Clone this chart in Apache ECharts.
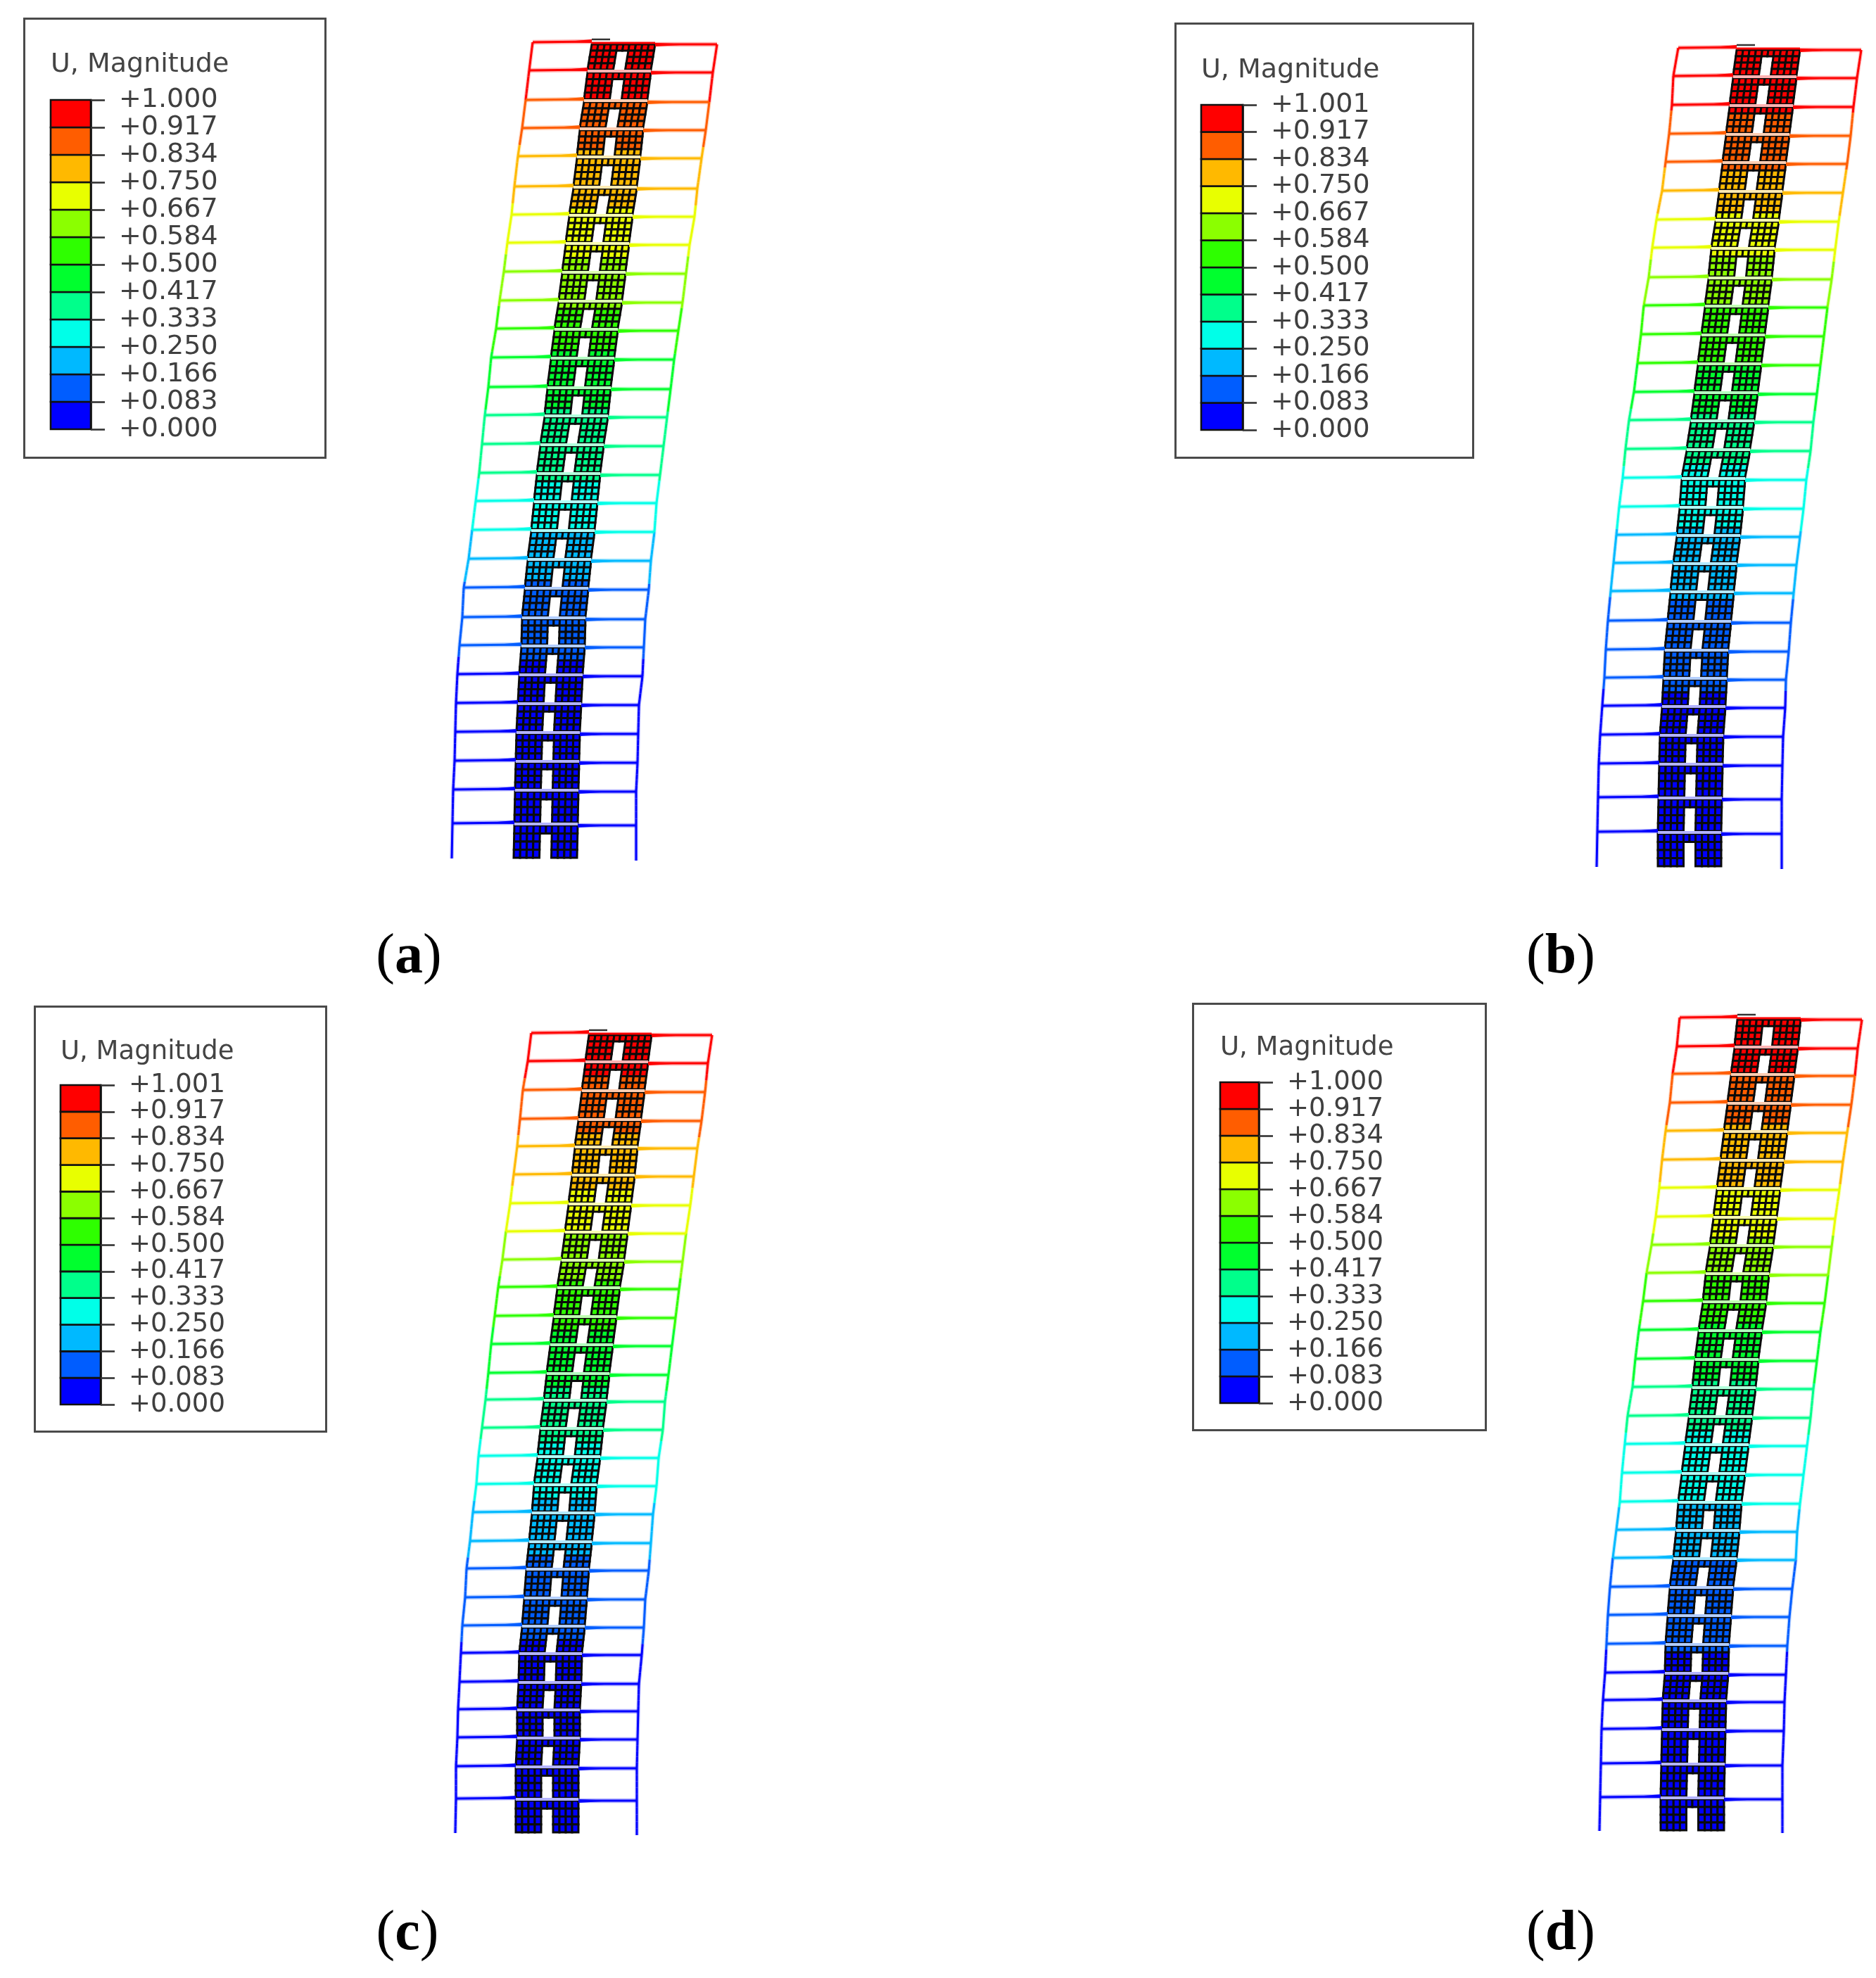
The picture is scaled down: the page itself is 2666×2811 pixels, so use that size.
<!DOCTYPE html>
<html>
<head>
<meta charset="UTF-8">
<title>U, Magnitude</title>
<script src="https://cdn.jsdelivr.net/npm/echarts@6/dist/echarts.min.js"></script>
<style>html,body{margin:0;padding:0;background:#fff}</style>
</head>
<body>
<div id="main" style="width:2666px;height:2811px"></div>
<script>
// contour bands, bottom to top, as in the legend
var bandColors = ['#0000ff','#005dff','#00b9ff','#00ffe8','#00ff8b','#00ff2e','#2eff00','#8bff00','#e8ff00','#ffb900','#ff5d00','#ff0000'];

// legend tick labels, top to bottom
var labelsA = ['+1.000','+0.917','+0.834','+0.750','+0.667','+0.584','+0.500','+0.417','+0.333','+0.250','+0.166','+0.083','+0.000'];
var labelsB = ['+1.001','+0.917','+0.834','+0.750','+0.667','+0.584','+0.500','+0.417','+0.333','+0.250','+0.166','+0.083','+0.000'];
var labelsC = ['+1.001','+0.917','+0.834','+0.750','+0.667','+0.584','+0.500','+0.417','+0.333','+0.250','+0.166','+0.083','+0.000'];
var labelsD = ['+1.000','+0.917','+0.834','+0.750','+0.667','+0.584','+0.500','+0.417','+0.333','+0.250','+0.166','+0.083','+0.000'];

// floor levels of the deformed frame, roof first, ground last
var levelA = [60,100,142,182,222,265,305,345,386,427,467,508,550,590,631,672,712,753,794,835,877,917,958,999,1040,1081,1122,1170,1220];
var leftA  = [757,752,747,742,736,731,727,721,716,710,705,698,694,689,685,681,676,671,666,659,657,653,650,648,647,646,644,643,642];
var rightA = [1019,1013,1008,1003,997,991,987,980,975,970,964,958,953,948,943,938,933,930,925,922,917,915,913,908,907,906,904,904,904];
var coreA  = [841,835,830,824,820,815,809,804,799,794,788,783,778,774,768,763,759,755,750,746,742,741,738,736,734,733,732,731,730];

var levelB = [68,108,149,190,230,271,312,352,394,434,475,516,557,597,638,679,720,760,800,840,882,923,963,1003,1044,1085,1133,1182,1232];
var leftB  = [2385,2378,2376,2372,2367,2362,2354,2348,2343,2336,2332,2327,2322,2315,2310,2306,2301,2297,2293,2289,2285,2282,2280,2277,2274,2272,2271,2270,2269];
var rightB = [2645,2639,2634,2630,2625,2619,2613,2608,2603,2597,2592,2587,2582,2577,2573,2567,2563,2558,2553,2549,2545,2542,2538,2537,2534,2533,2532,2532,2532];
var coreB  = [2468,2463,2458,2453,2448,2443,2438,2432,2428,2423,2418,2413,2408,2403,2397,2390,2387,2383,2378,2374,2370,2366,2364,2362,2359,2358,2357,2356,2356];

var levelC = [1468,1508,1549,1590,1629,1669,1710,1750,1790,1829,1870,1910,1951,1989,2029,2069,2109,2149,2190,2229,2270,2310,2349,2390,2429,2469,2510,2556,2605];
var leftC  = [755,750,743,739,735,730,725,719,714,708,703,698,694,690,685,680,677,672,668,663,661,657,655,653,651,650,648,648,647];
var rightC = [1012,1006,1002,997,991,986,981,975,970,965,960,955,950,945,942,936,933,928,925,922,917,915,912,908,907,906,905,905,905];
var coreC  = [837,832,827,822,817,813,808,803,798,792,787,782,777,773,768,764,759,756,752,748,745,742,738,737,735,735,733,733,733];

var levelD = [1446,1487,1526,1567,1607,1648,1688,1729,1769,1809,1849,1890,1931,1971,2012,2052,2093,2134,2174,2214,2255,2295,2336,2377,2416,2457,2506,2554,2602];
var leftD  = [2387,2383,2377,2373,2367,2362,2358,2353,2347,2340,2335,2329,2324,2320,2313,2309,2305,2302,2297,2292,2288,2285,2283,2281,2278,2276,2275,2274,2273];
var rightD = [2646,2640,2636,2631,2625,2619,2614,2608,2603,2598,2593,2587,2582,2577,2573,2568,2563,2558,2554,2552,2547,2543,2540,2538,2536,2535,2533,2533,2533];
var coreD  = [2469,2465,2460,2455,2450,2445,2440,2435,2430,2424,2420,2414,2409,2405,2400,2395,2390,2385,2382,2378,2373,2370,2367,2366,2363,2362,2361,2360,2360];

var panels = [
  {name:'a', level:levelA, left:leftA, right:rightA, core:coreA, labels:labelsA, coreW:90,
   box:[33,25,428,624], bar:[72,142,57,468], titleY:92, font:38, tag:[581,1361]},
  {name:'b', level:levelB, left:leftB, right:rightB, core:coreB, labels:labelsB, coreW:90,
   box:[1669,32,423,617], bar:[1707,149,59,462], titleY:100, font:38, tag:[2218,1361]},
  {name:'c', level:levelC, left:leftC, right:rightC, core:coreC, labels:labelsC, coreW:89,
   box:[48,1429,414,604], bar:[86,1542,57,454], titleY:1495, font:37, tag:[579,2749]},
  {name:'d', level:levelD, left:leftD, right:rightD, core:coreD, labels:labelsD, coreW:90,
   box:[1694,1425,416,606], bar:[1734,1538,55,456], titleY:1489, font:37, tag:[2218,2749]}
];

function bandOf(u, labels){
  for(var k=0;k<12;k++){
    if(u<parseFloat(labels[11-k])) return Math.max(0,k);
  }
  return 11;
}

function pale(hex, t){
  var n=parseInt(hex.slice(1),16);
  var r=(n>>16)&255,g=(n>>8)&255,b=n&255;
  return 'rgb('+Math.round(r+(255-r)*t)+','+Math.round(g+(255-g)*t)+','+Math.round(b+(255-b)*t)+')';
}

function line(pts,color,w,op){
  return {type:'polyline',shape:{points:pts},style:{stroke:color,lineWidth:w,fill:null,opacity:op==null?1:op}};
}

// outer frame: two columns and the floor beam for each level
function frameRender(p){
  return function(params,api){
    var kids=[];
    var yT=api.value(4), yB=api.value(5);
    var lT=api.value(0), lB=api.value(1), rT=api.value(2), rB=api.value(3);
    var cT=api.value(6), uT=api.value(7), uB=api.value(8);
    var col=bandColors[bandOf(uT,p.labels)];
    var a,b;
    // columns, split so a contour edge can fall inside a storey
    for(var s=0;s<5;s++){
      var t0=s/5,t1=(s+1)/5;
      var c=bandColors[bandOf(uT+(uB-uT)*(t0+t1)/2,p.labels)];
      a=api.coord([lT+(lB-lT)*t0,yT+(yB-yT)*t0]); b=api.coord([lT+(lB-lT)*t1,yT+(yB-yT)*t1]);
      kids.push(line([a,b],c,5.5,0.25)); kids.push(line([a,b],c,3));
      a=api.coord([rT+(rB-rT)*t0,yT+3+(yB-yT)*t0]); b=api.coord([rT+(rB-rT)*t1,yT+3+(yB-yT)*t1]);
      kids.push(line([a,b],c,5.5,0.25)); kids.push(line([a,b],c,3));
    }
    // floor beam either side of the core
    var cR=cT+p.coreW;
    var b1=[api.coord([lT,yT]),api.coord([cT,yT-1])];
    var b2=[api.coord([cR,yT+3]),api.coord([rT,yT+3])];
    kids.push(line(b1,col,6.5,0.3)); kids.push(line(b1,col,2.8));
    kids.push(line(b2,col,6.5,0.3)); kids.push(line(b2,col,2.8));
    // the beam thickens towards the core
    kids.push({type:'polygon',shape:{points:[api.coord([cT,yT-4]),api.coord([cT,yT+1]),api.coord([cT-(cT-lT)*0.55,yT])]},style:{fill:col}});
    kids.push({type:'polygon',shape:{points:[api.coord([cR,yT+1]),api.coord([cR,yT+6]),api.coord([cR+(rT-cR)*0.6,yT+3])]},style:{fill:col}});
    // pale slab line over the core
    if(params.dataIndex>0){
      kids.push(line([api.coord([cT,yT+1]),api.coord([cR,yT+1])],pale(col,0.7),4));
    }else{
      kids.push(line([api.coord([cT,yT+1]),api.coord([cR,yT+1])],col,3));
      kids.push(line([api.coord([cT,yT-4]),api.coord([cT+26,yT-4])],'#333',2.5));
    }
    return {type:'group',children:kids};
  };
}

// core wall mesh for one storey: 4 rows, two piers of 4 cells and the door opening
function coreRender(p){
  var pierW=(p.coreW-17)/2;
  var cols=[0,0.25,0.5,0.75,1].map(function(f){return f*pierW;});
  var edges=cols.concat([pierW+8.5,pierW+17]);
  [0.25,0.5,0.75,1].forEach(function(f){edges.push(pierW+17+f*pierW);});
  return function(params,api){
    var kids=[];
    var yT=api.value(4)+3, yB=api.value(5)-1;
    var cT=api.value(6), cB=api.value(9), uT=api.value(7), uB=api.value(8);
    function pt(ex,t){
      return api.coord([cT+(cB-cT)*t+ex,yT+(yB-yT)*t]);
    }
    for(var r=0;r<4;r++){
      var t0=r/4,t1=(r+1)/4;
      var c=bandColors[bandOf(uT+(uB-uT)*(t0+t1)/2,p.labels)];
      for(var e=0;e<edges.length-1;e++){
        if(r>0 && (e==4||e==5)) continue; // door opening below the lintel
        kids.push({type:'polygon',shape:{points:[pt(edges[e],t0),pt(edges[e+1],t0),pt(edges[e+1],t1),pt(edges[e],t1)]},
          style:{fill:c,stroke:'#0a0a0a',lineWidth:3}});
      }
    }
    return {type:'group',children:kids};
  };
}

// legend colour bar
function barRender(params,api){
  var k=api.value(0);
  var a=api.coord([0,k+1]), b=api.coord([1,k]);
  return {type:'rect',shape:{x:a[0],y:a[1],width:b[0]-a[0],height:b[1]-a[1]},
    style:{fill:bandColors[k],stroke:'#111',lineWidth:2.6}};
}

var grids=[],xAxes=[],yAxes=[],series=[],graphics=[];
panels.forEach(function(p,n){
  var gi=grids.length;
  // frame grid: one unit of the axes is one pixel of the reference
  var xMin=Math.min.apply(null,p.left)-20, xMax=Math.max.apply(null,p.right)+20;
  var yMin=p.level[0]-20, yMax=p.level[p.level.length-1];
  grids.push({left:xMin,top:yMin,width:xMax-xMin,height:yMax-yMin,show:false});
  xAxes.push({gridIndex:gi,type:'value',min:xMin,max:xMax,show:false});
  yAxes.push({gridIndex:gi,type:'value',min:yMin,max:yMax,inverse:true,show:false});

  var last=p.level.length-1;
  var top=parseFloat(p.labels[0]);
  function uAt(i){return (p.left[i]-p.left[last])/(p.left[0]-p.left[last])*top;}
  var rows=[];
  for(var i=0;i<last;i++){
    rows.push([p.left[i],p.left[i+1],p.right[i],p.right[i+1],p.level[i],p.level[i+1],p.core[i],uAt(i),uAt(i+1),p.core[i+1]]);
  }
  series.push({type:'custom',name:'core '+p.name,xAxisIndex:gi,yAxisIndex:gi,coordinateSystem:'cartesian2d',
    data:rows,encode:{x:0,y:4},renderItem:coreRender(p),silent:true,z:2,clip:false});
  series.push({type:'custom',name:'frame '+p.name,xAxisIndex:gi,yAxisIndex:gi,coordinateSystem:'cartesian2d',
    data:rows,encode:{x:0,y:4},renderItem:frameRender(p),silent:true,z:3,clip:false});

  // legend grid, the ticks and labels are a real value axis
  var li=grids.length;
  grids.push({left:p.bar[0],top:p.bar[1],width:p.bar[2],height:p.bar[3],show:false});
  xAxes.push({gridIndex:li,type:'value',min:0,max:1,show:false});
  yAxes.push({gridIndex:li,type:'value',min:0,max:12,interval:1,position:'right',z:6,
    axisLine:{show:true,onZero:false,lineStyle:{color:'#111',width:2.6}},
    axisTick:{show:true,length:20,lineStyle:{color:'#333',width:2.6}},
    splitLine:{show:false},
    axisLabel:{show:true,margin:40,color:'#3f3f3f',fontFamily:'DejaVu Sans',fontSize:p.font,
      formatter:(function(labels){return function(v){return labels[12-v];};})(p.labels)}});
  series.push({type:'custom',name:'legend '+p.name,xAxisIndex:li,yAxisIndex:li,coordinateSystem:'cartesian2d',
    data:[0,1,2,3,4,5,6,7,8,9,10,11].map(function(k){return [k,0.5];}),encode:{x:1,y:0},
    renderItem:barRender,silent:true,z:4,clip:false});

  graphics.push({type:'rect',left:p.box[0],top:p.box[1],silent:true,z:1,
    shape:{width:p.box[2],height:p.box[3]},style:{fill:'#fff',stroke:'#4a4a4a',lineWidth:3}});
  graphics.push({type:'text',x:p.bar[0],y:p.titleY,silent:true,z:5,
    style:{text:'U, Magnitude',fill:'#444',font:p.font+'px "DejaVu Sans"',textVerticalAlign:'middle',verticalAlign:'middle'}});
  graphics.push({type:'text',x:p.tag[0],y:p.tag[1],silent:true,z:5,
    style:{text:'{p|(}{b|'+p.name+'}{p|)}',align:'center',verticalAlign:'middle',
      rich:{p:{fontFamily:'Liberation Serif',fontSize:80,fontWeight:'normal',fill:'#000'},
            b:{fontFamily:'Liberation Serif',fontSize:80,fontWeight:'bold',fill:'#000'}}}});
});

var myChart=echarts.init(document.getElementById('main'));
myChart.setOption({
  animation:false,
  backgroundColor:'#fff',
  grid:grids,xAxis:xAxes,yAxis:yAxes,series:series,
  graphic:{elements:graphics}
});
</script>
</body>
</html>
